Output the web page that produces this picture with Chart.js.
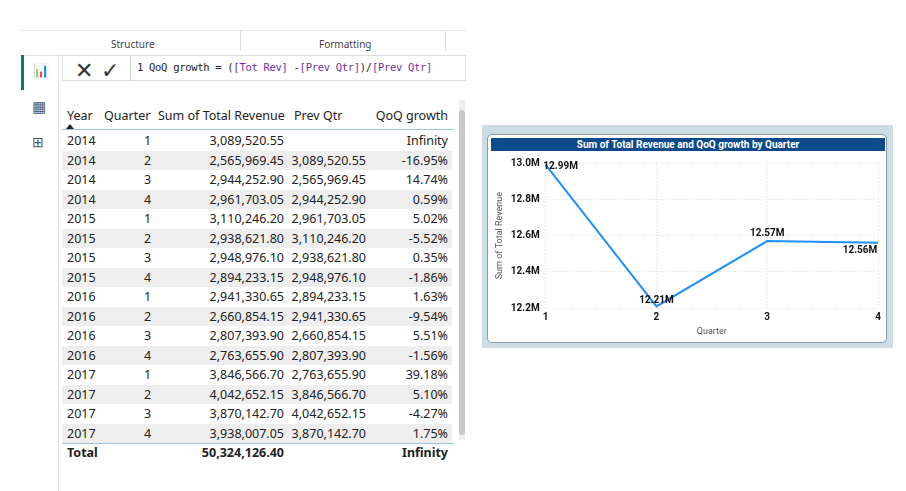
<!DOCTYPE html>
<html><head><meta charset="utf-8">
<script src="https://cdn.jsdelivr.net/npm/chart.js@4"></script>
<style>
body{margin:0;width:906px;height:491px;background:#fff;font-family:"Noto Sans","Open Sans",sans-serif;position:relative;overflow:hidden}
.a{position:absolute;white-space:nowrap}
#panel{position:absolute;left:482px;top:125px;width:411px;height:223px;background:#cddde6}
#card{position:absolute;left:487px;top:134px;width:400px;height:209px;background:#fff;border:1px solid #8a9aa6;border-radius:5px;box-sizing:border-box}
#title{position:absolute;left:491px;top:138px;width:394px;height:13px;background:#0d4a8c;color:#fff;font:bold 10px Roboto,sans-serif;text-align:center;line-height:13px}
#cw{position:absolute;left:490px;top:151px;width:394px;height:190px}
.row{position:absolute;left:62px;width:390px;height:19.5px;font-size:12.5px;color:#222}
.row span{position:absolute;top:1px}
</style></head><body>
<div class="a" style="left:20px;top:30px;width:446px;height:25px;background:#fff;border-bottom:1px solid #e3e3e3"></div>
<div class="a" style="left:20px;top:30px;width:446px;height:1px;background:#e6e6e6"></div>
<div class="a" style="left:240px;top:31px;width:1px;height:20px;background:#ddd"></div>
<div class="a" style="left:445px;top:31px;width:1px;height:20px;background:#ddd"></div>
<div class="a" style="left:111px;top:37px;font-size:10px;color:#444">Structure</div>
<div class="a" style="left:319px;top:37px;font-size:10px;color:#444">Formatting</div>
<div class="a" style="left:58px;top:55px;width:1px;height:436px;background:#e3e3e3"></div>
<div class="a" style="left:21px;top:55px;width:3px;height:35px;background:#117865"></div>
<div class="a" style="left:33px;top:61px;font-size:13px;color:#555">&#x1F4CA;</div>
<div class="a" style="left:32px;top:96px;font-size:15px;color:#555">&#x25A6;</div>
<div class="a" style="left:32px;top:132px;font-size:14px;color:#555">&#x229E;</div>
<div class="a" style="left:62px;top:55px;width:404px;height:26px;border:1px solid #ddd;box-sizing:border-box"></div>
<div class="a" style="left:75px;top:54px;font-size:22px;color:#333">&#x2715;</div>
<div class="a" style="left:101px;top:54px;font-size:22px;color:#333">&#x2713;</div>
<div class="a" style="left:130px;top:56px;width:336px;height:25px;border-left:1px solid #ccc"></div>
<div class="a" style="left:137px;top:61px;font:10.5px 'DejaVu Sans Mono',monospace;letter-spacing:-0.3px;color:#222">1 QoQ growth = (<span style="color:#6b2fa0">[Tot Rev]</span> -<span style="color:#6b2fa0">[Prev Qtr]</span>)/<span style="color:#6b2fa0">[Prev Qtr]</span></div>
<div id="tbl"></div>
<div class="a" style="left:459px;top:100px;width:6px;height:340px;background:#eee"></div>
<div class="a" style="left:459px;top:110px;width:6px;height:325px;background:#c8c8c8;border-radius:3px"></div>
<div id="panel"></div><div id="card"></div><div id="title">Sum of Total Revenue and QoQ growth by Quarter</div>
<div id="cw"><canvas id="c"></canvas></div>
<script>
const years=[2014,2014,2014,2014,2015,2015,2015,2015,2016,2016,2016,2016,2017,2017,2017,2017];
const quarters=[1,2,3,4,1,2,3,4,1,2,3,4,1,2,3,4];
const revenue=["3,089,520.55","2,565,969.45","2,944,252.90","2,961,703.05","3,110,246.20","2,938,621.80","2,948,976.10","2,894,233.15","2,941,330.65","2,660,854.15","2,807,393.90","2,763,655.90","3,846,566.70","4,042,652.15","3,870,142.70","3,938,007.05"];
const prevQtr=["","3,089,520.55","2,565,969.45","2,944,252.90","2,961,703.05","3,110,246.20","2,938,621.80","2,948,976.10","2,894,233.15","2,941,330.65","2,660,854.15","2,807,393.90","2,763,655.90","3,846,566.70","4,042,652.15","3,870,142.70"];
const growth=["Infinity","-16.95%","14.74%","0.59%","5.02%","-5.52%","0.35%","-1.86%","1.63%","-9.54%","5.51%","-1.56%","39.18%","5.10%","-4.27%","1.75%"];
const chartQuarters=["1","2","3","4"];
const chartRevenue=[12.99,12.21,12.57,12.56];
const yTicks=[12.2,12.4,12.6,12.8,13.0];

let h='<div class="row" style="top:106px"><span style="left:5px">Year</span><span style="left:42px">Quarter</span><span style="left:96px">Sum of Total Revenue</span><span style="left:232px">Prev Qtr</span><span style="right:4px">QoQ growth</span></div>';
h+='<div class="a" style="left:66px;top:124px;width:0;height:0;border-left:4px solid transparent;border-right:4px solid transparent;border-bottom:5px solid #222"></div>';
h+='<div class="a" style="left:62px;top:129px;width:392px;height:1px;background:#9ec3e6"></div>';
for(let i=0;i<years.length;i++){
 const t=131+i*19.53;
 h+=`<div class="row" style="top:${t}px;background:${i%2?'#eeeeee':'#fff'}"><span style="left:5px">${years[i]}</span><span style="left:82px">${quarters[i]}</span><span style="right:168px">${revenue[i]}</span><span style="right:86px">${prevQtr[i]}</span><span style="right:4px">${growth[i]}</span></div>`;
}
h+='<div class="a" style="left:62px;top:443px;width:392px;height:1px;background:#9ec3e6"></div>';
h+='<div class="row" style="top:443px;font-weight:bold"><span style="left:5px">Total</span><span style="right:168px">50,324,126.40</span><span style="right:4px">Infinity</span></div>';
document.getElementById('tbl').innerHTML=h;

const labelPlugin={id:'lbl',afterDatasetsDraw(ch){
 const ctx=ch.ctx,m=ch.getDatasetMeta(0);
 ctx.save();ctx.font='bold 10px Roboto';ctx.fillStyle='#111';ctx.textAlign='center';
 const off=[[15,4],[0,-3],[0,-5],[-18,10]];
 m.data.forEach((p,i)=>{ctx.fillText(chartRevenue[i].toFixed(2)+'M',p.x+off[i][0],p.y+off[i][1]);});
 ctx.restore();}};
new Chart(document.getElementById('c'),{type:'line',
 data:{labels:chartQuarters,datasets:[{data:chartRevenue,borderColor:'#1e90ff',borderWidth:2,pointRadius:0,tension:0}]},
 options:{responsive:true,maintainAspectRatio:false,animation:false,
  layout:{padding:{top:4,right:6,bottom:0,left:0}},
  plugins:{legend:{display:false},tooltip:{enabled:false}},
  scales:{
   x:{offset:false,grid:{color:'#dddddd',drawTicks:false},border:{display:false,dash:[1,2]},ticks:{color:'#111',font:{family:'Roboto',weight:'bold',size:10},padding:3},
      title:{display:true,text:'Quarter',color:'#555',font:{family:'Roboto',size:9},padding:{top:0}}},
   y:{min:12.2,max:13.0,afterBuildTicks(a){a.ticks=yTicks.map(v=>({value:v}));},grid:{color:'#dddddd',drawTicks:false},border:{display:false,dash:[1,2]},
      ticks:{color:'#111',font:{family:'Roboto',weight:'bold',size:10},padding:6,callback:v=>v.toFixed(1)+'M'},
      title:{display:true,text:'Sum of Total Revenue',color:'#555',font:{family:'Roboto',size:9},padding:{bottom:0}}}}},
 plugins:[labelPlugin]});
</script></body></html>
